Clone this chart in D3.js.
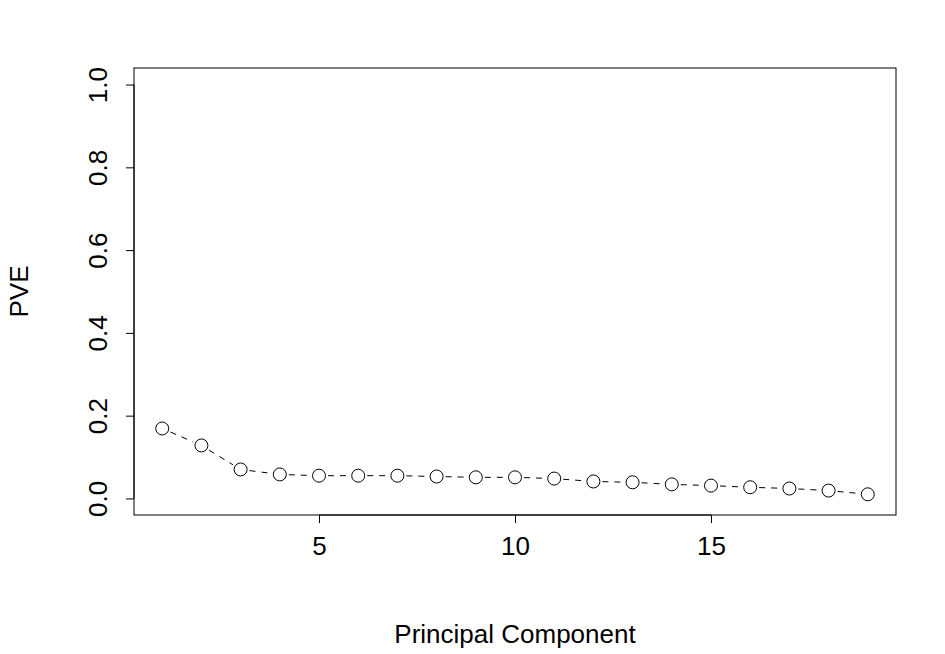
<!DOCTYPE html>
<html><head><meta charset="utf-8">
<script src="https://cdn.jsdelivr.net/npm/d3@7"></script>
<style>body{margin:0;background:#fff}text{font-family:"Liberation Sans",Arial,sans-serif;fill:#000}</style>
</head><body><svg id="c" width="945" height="654"></svg>
<script>
const components = d3.range(1, 20);
const pve = [0.169,0.128,0.070,0.058,0.055,0.055,0.055,0.053,0.051,0.051,0.048,0.041,0.039,0.034,0.031,0.027,0.024,0.019,0.010];
const xTicks = [5,10,15];
const yTicks = [0,0.2,0.4,0.6,0.8,1.0];

const svg = d3.select("#c");
const L=134,R=896,T=68,B=515;
const FS = "26px";
const x = d3.scaleLinear().domain([0.28,19.72]).range([L,R]);
const y = d3.scaleLinear().domain([-0.04,1.04]).range([B,T]);

svg.append("rect").attr("x",L).attr("y",T).attr("width",R-L).attr("height",B-T)
  .attr("fill","none").attr("stroke","#000").attr("stroke-width",1);

const xa = svg.append("g").attr("transform",`translate(0,${B})`)
  .call(d3.axisBottom(x).tickValues(xTicks).tickSize(8).tickPadding(14).tickFormat(d3.format("d")));
xa.select(".domain").attr("d",`M${x(5)},0H${x(15)}`);
xa.selectAll("text").style("font-size",FS).style("font-family","Liberation Sans, Arial");

const ya = svg.append("g").attr("transform",`translate(${L},0)`)
  .call(d3.axisLeft(y).tickValues(yTicks).tickSize(8).tickFormat(d3.format(".1f")));
ya.select(".domain").attr("d",`M0,${y(0)}V${y(1)}`);
ya.selectAll("text").style("font-size",FS).style("font-family","Liberation Sans, Arial")
  .attr("text-anchor","middle").attr("x",0).attr("y",0).attr("dy","0")
  .attr("transform","translate(-27,0) rotate(-90)");

const pts = components.map((c,i)=>[x(c),y(pve[i])]);
const r = 6.5, gap = 9;
for(let i=0;i<pts.length-1;i++){
  const [x1,y1]=pts[i],[x2,y2]=pts[i+1];
  const dx=x2-x1,dy=y2-y1,len=Math.hypot(dx,dy);
  if(len<=2*gap) continue;
  const ux=dx/len,uy=dy/len;
  svg.append("line").attr("x1",x1+ux*gap).attr("y1",y1+uy*gap).attr("x2",x2-ux*gap).attr("y2",y2-uy*gap)
    .attr("stroke","#000").attr("stroke-dasharray","6,6").attr("stroke-width",1);
}
svg.selectAll("circle.p").data(components).enter().append("circle")
  .attr("cx",d=>x(d)).attr("cy",(d,i)=>y(pve[i])).attr("r",r)
  .attr("fill","none").attr("stroke","#000").attr("stroke-width",1);

svg.append("text").attr("x",(L+R)/2).attr("y",643).attr("text-anchor","middle").style("font-size",FS).text("Principal Component");
svg.append("text").attr("transform",`translate(28,${(T+B)/2}) rotate(-90)`).attr("text-anchor","middle").style("font-size",FS).text("PVE");
</script></body></html>
